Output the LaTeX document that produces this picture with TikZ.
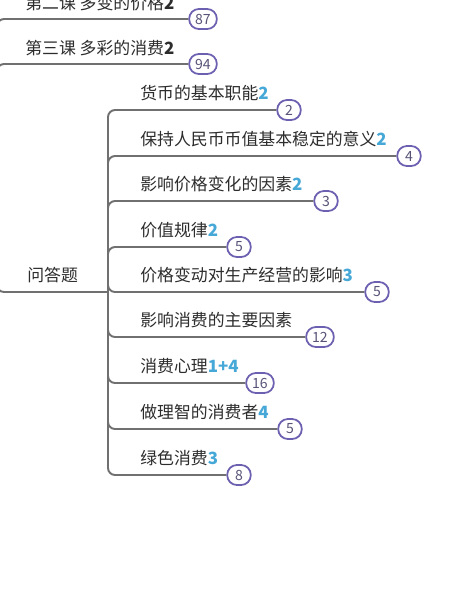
\documentclass[tikz,border=0pt]{standalone}
\usepackage{fontspec}
\setmainfont{Noto Sans CJK SC}
\usetikzlibrary{positioning}
\definecolor{linegray}{RGB}{112,112,112}
\definecolor{txtcolor}{RGB}{45,45,45}
\definecolor{numblue}{RGB}{70,168,215}
\definecolor{ringcolor}{RGB}{108,96,176}
\definecolor{ringtext}{RGB}{88,84,120}
\newcommand{\ptval}[1]{\textcolor{numblue}{\bfseries #1}}

\begin{document}
\begin{tikzpicture}[
    x=0.02cm, y=-0.02cm,
    topic/.style={anchor=west, inner sep=0pt, text=txtcolor,
       font=\fontsize{9.6}{11}\selectfont},
    count/.style={draw=ringcolor, line width=1pt, fill=white,
       rounded corners=5.5pt, minimum width=0.47cm, minimum height=0.4cm,
       inner xsep=0.12cm, inner ysep=0pt, text=ringtext,
       font=\fontsize{8}{9}\selectfont},
    branch/.style={draw=linegray, line width=1.1pt, rounded corners=4pt}
  ]
    \clip (0,0) rectangle (460,600);
    \fill[white] (0,0) rectangle (460,600);

    % Lessons and the question group
    \node[topic] (l2) at (25,3)  {第二课 多变的价格\textbf{2}};
    \node[count] (c87) at (203,19) {87};
    \node[topic] (l3) at (25,48) {第三课 多彩的消费\textbf{2}};
    \node[count] (c94) at (203,64) {94};
    \node[topic] (qa) at (27,275) {问答题};

    % Question topics
    \node[topic] (t1) at (140,93)  {货币的基本职能\ptval{2}};
    \node[topic] (t2) at (140,139) {保持人民币币值基本稳定的意义\ptval{2}};
    \node[topic] (t3) at (140,184) {影响价格变化的因素\ptval{2}};
    \node[topic] (t4) at (140,230) {价值规律\ptval{2}};
    \node[topic] (t5) at (140,275) {价格变动对生产经营的影响\ptval{3}};
    \node[topic] (t6) at (140,320) {影响消费的主要因素};
    \node[topic] (t7) at (140,366) {消费心理\ptval{1+4}};
    \node[topic] (t8) at (140,412) {做理智的消费者\ptval{4}};
    \node[topic] (t9) at (140,458) {绿色消费\ptval{3}};

    % Counters at the end of each branch
    \node[count] (c1) at (289,110) {2};
    \node[count] (c2) at (409,156) {4};
    \node[count] (c3) at (326,201) {3};
    \node[count] (c4) at (239,247) {5};
    \node[count] (c5) at (377,292) {5};
    \node[count] (c6) at (320,337) {12};
    \node[count] (c7) at (260,383) {16};
    \node[count] (c8) at (290,429) {5};
    \node[count] (c9) at (239,475) {8};

    % Branch lines
    \coordinate (hub) at (-3,170);
    \coordinate (qj) at (108,292);
    \draw[branch] (hub) |- (c87.west);
    \draw[branch] (hub) |- (c94.west);
    \draw[branch] (hub) |- (qj);
    \foreach \i in {1,...,9}
      \draw[branch] (qj) |- (c\i.west);
  \end{tikzpicture}
\end{document}
